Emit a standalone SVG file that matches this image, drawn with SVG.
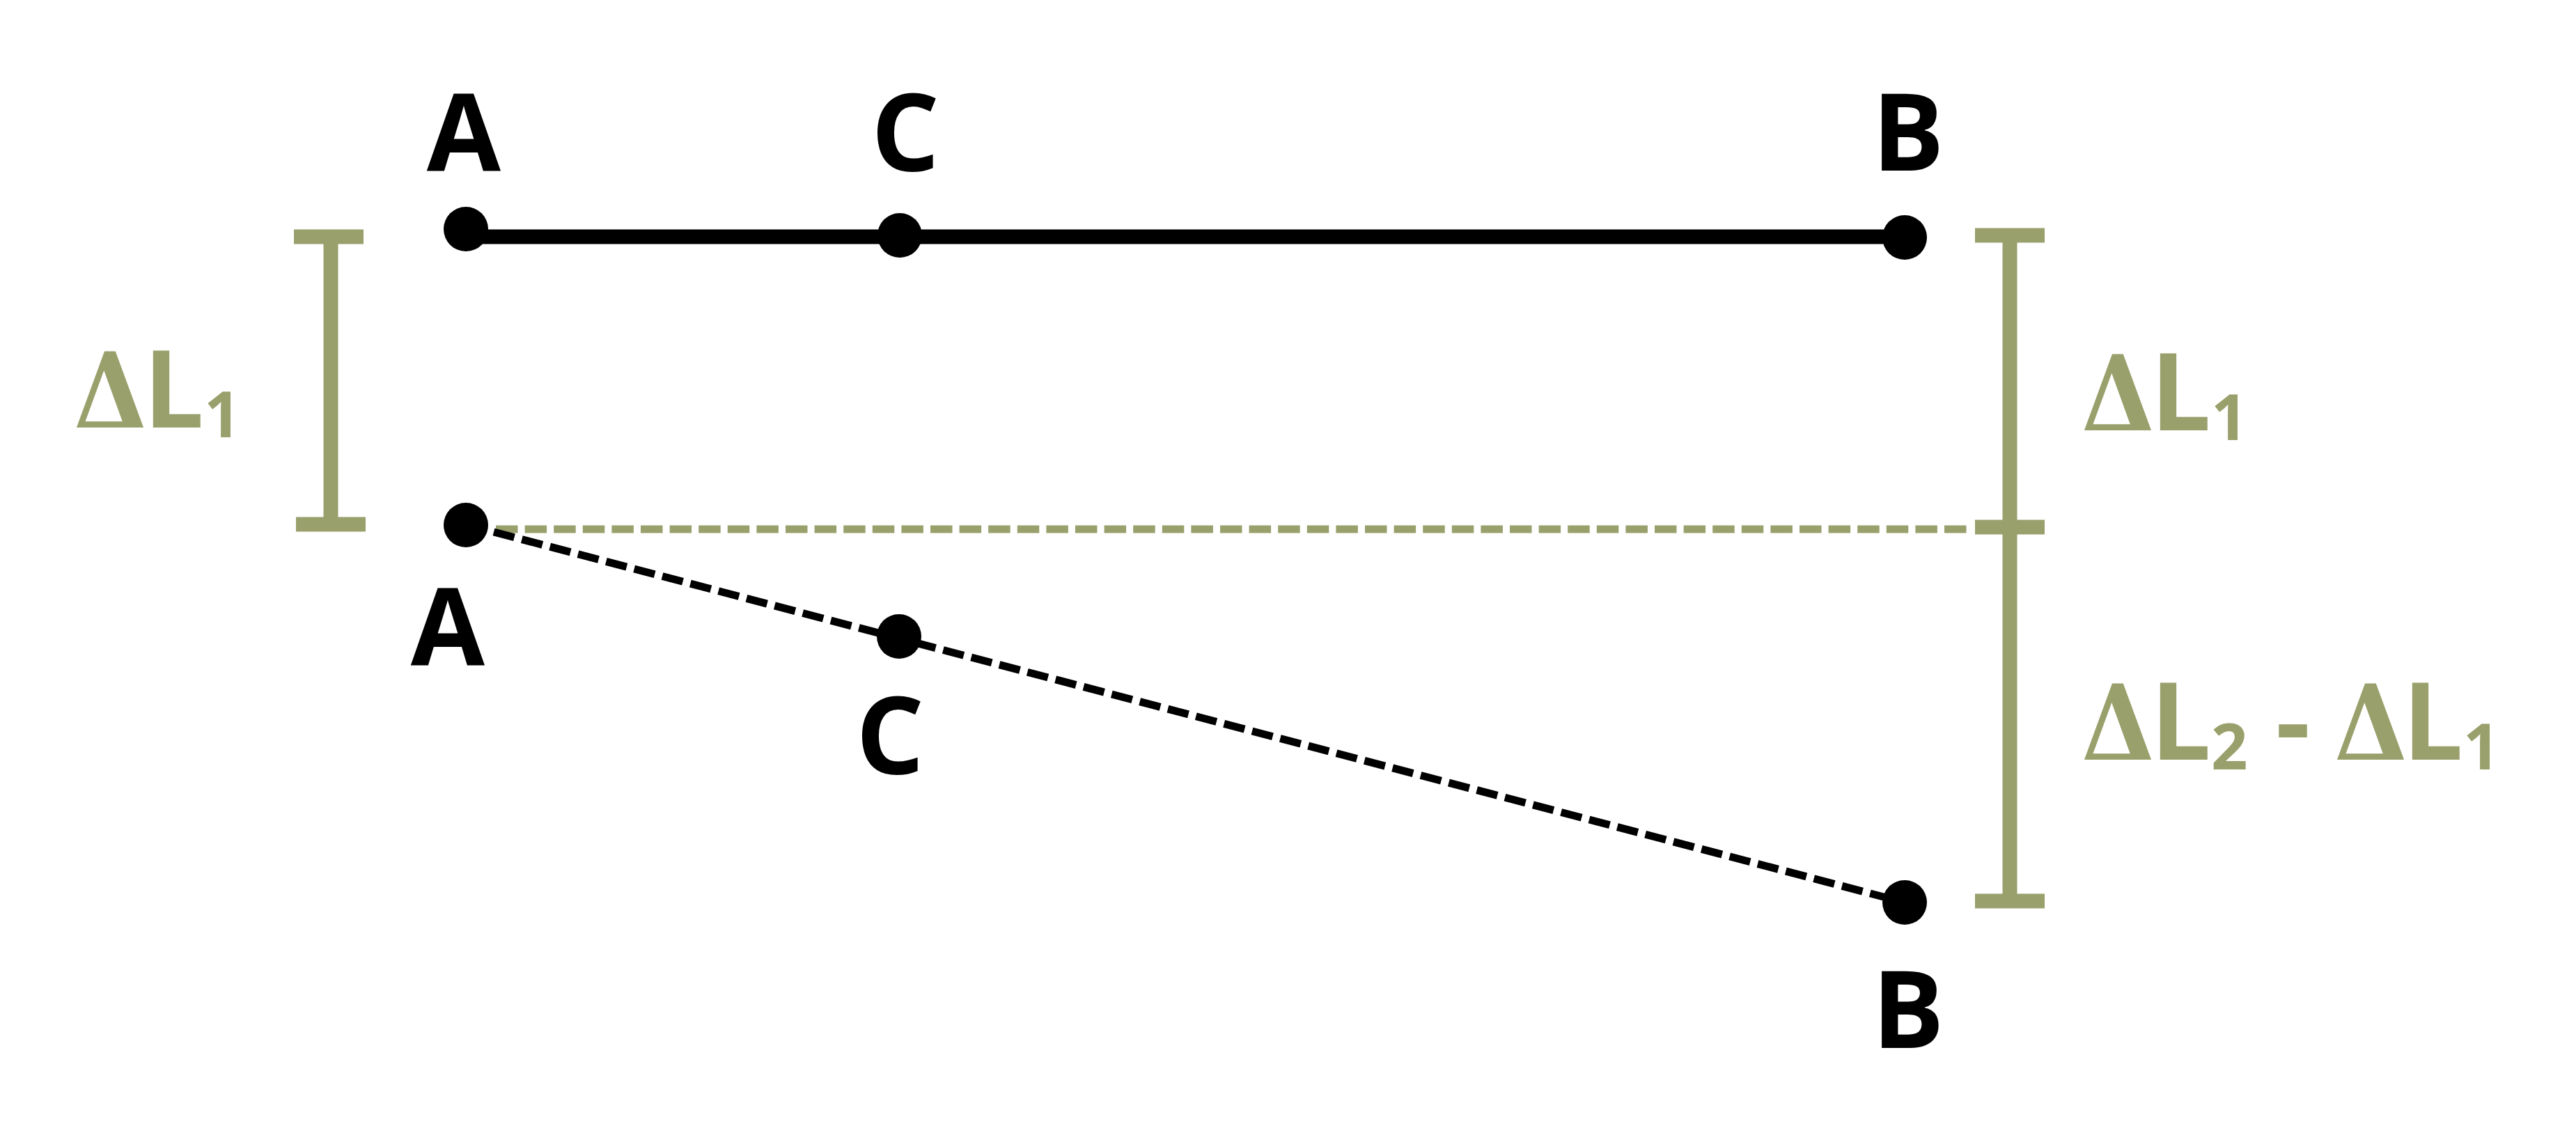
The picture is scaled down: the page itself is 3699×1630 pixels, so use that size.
<svg xmlns="http://www.w3.org/2000/svg" width="3699" height="1630" viewBox="0 0 3699 1630">
<style>
.lbl{font-family:"Open Sans","DejaVu Sans",sans-serif;font-weight:700;font-size:154px;fill:#000;text-anchor:middle}
.dl{font-family:"Open Sans","DejaVu Sans",sans-serif;font-weight:700;font-size:154px;fill:#9aa06c}
.delta{font-family:"DejaVu Serif Condensed","DejaVu Serif",serif;font-weight:700;font-size:150px}
.sub{font-size:92px}
.dot{fill:#000}
.g{stroke:#9aa06c;stroke-width:21;fill:none}
.gd{stroke:#9aa06c;stroke-width:11;fill:none;stroke-dasharray:31.5 10.1}
.bd{stroke:#000;stroke-width:11;fill:none;stroke-dasharray:30.5 11.2}
</style>
<rect width="3699" height="1630" fill="#fff"/>
<g id="connectors">
<line x1="669" y1="340" x2="2735" y2="340" stroke="#000" stroke-width="21"/>
<line class="gd" x1="712" y1="760" x2="2828" y2="760"/>
<line class="bd" x1="709" y1="764" x2="2735" y2="1296"/>
</g>
<g id="bracket-left">
<line class="g" x1="475" y1="340" x2="475" y2="753"/>
<line class="g" x1="422" y1="340" x2="522" y2="340"/>
<line class="g" x1="425" y1="753" x2="525" y2="753"/>
<text class="dl" x="106" y="614"><tspan class="delta">Δ</tspan><tspan x="206">L</tspan><tspan class="sub" dy="14">1</tspan></text>
</g>
<g id="bracket-right">
<line class="g" x1="2886" y1="338" x2="2886" y2="1294"/>
<line class="g" x1="2836" y1="338" x2="2936" y2="338"/>
<line class="g" x1="2836" y1="757" x2="2936" y2="757"/>
<line class="g" x1="2836" y1="1294" x2="2936" y2="1294"/>
<text class="dl" x="2989" y="618"><tspan class="delta">Δ</tspan><tspan x="3088">L</tspan><tspan class="sub" dy="14">1</tspan></text>
<text class="dl" x="2989" y="1091"><tspan class="delta">Δ</tspan><tspan x="3088">L</tspan><tspan class="sub" dy="14">2</tspan><tspan dy="-14"> -</tspan><tspan class="delta" x="3352">Δ</tspan><tspan x="3450">L</tspan><tspan class="sub" dy="14">1</tspan></text>
</g>
<g id="node-A-top">
<circle class="dot" cx="669" cy="329" r="32"/>
<text class="lbl" x="666" y="245">A</text>
</g>
<g id="node-C-top">
<circle class="dot" cx="1292" cy="338" r="32"/>
<text class="lbl" x="1300" y="245">C</text>
</g>
<g id="node-B-top">
<circle class="dot" cx="2735" cy="341" r="32"/>
<text class="lbl" x="2740" y="245">B</text>
</g>
<g id="node-A-bottom">
<circle class="dot" cx="669" cy="754" r="32"/>
<text class="lbl" x="643" y="955">A</text>
</g>
<g id="node-C-bottom">
<circle class="dot" cx="1291" cy="914" r="32"/>
<text class="lbl" x="1278" y="1111">C</text>
</g>
<g id="node-B-bottom">
<circle class="dot" cx="2735" cy="1296" r="32"/>
<text class="lbl" x="2740" y="1505">B</text>
</g>
</svg>
